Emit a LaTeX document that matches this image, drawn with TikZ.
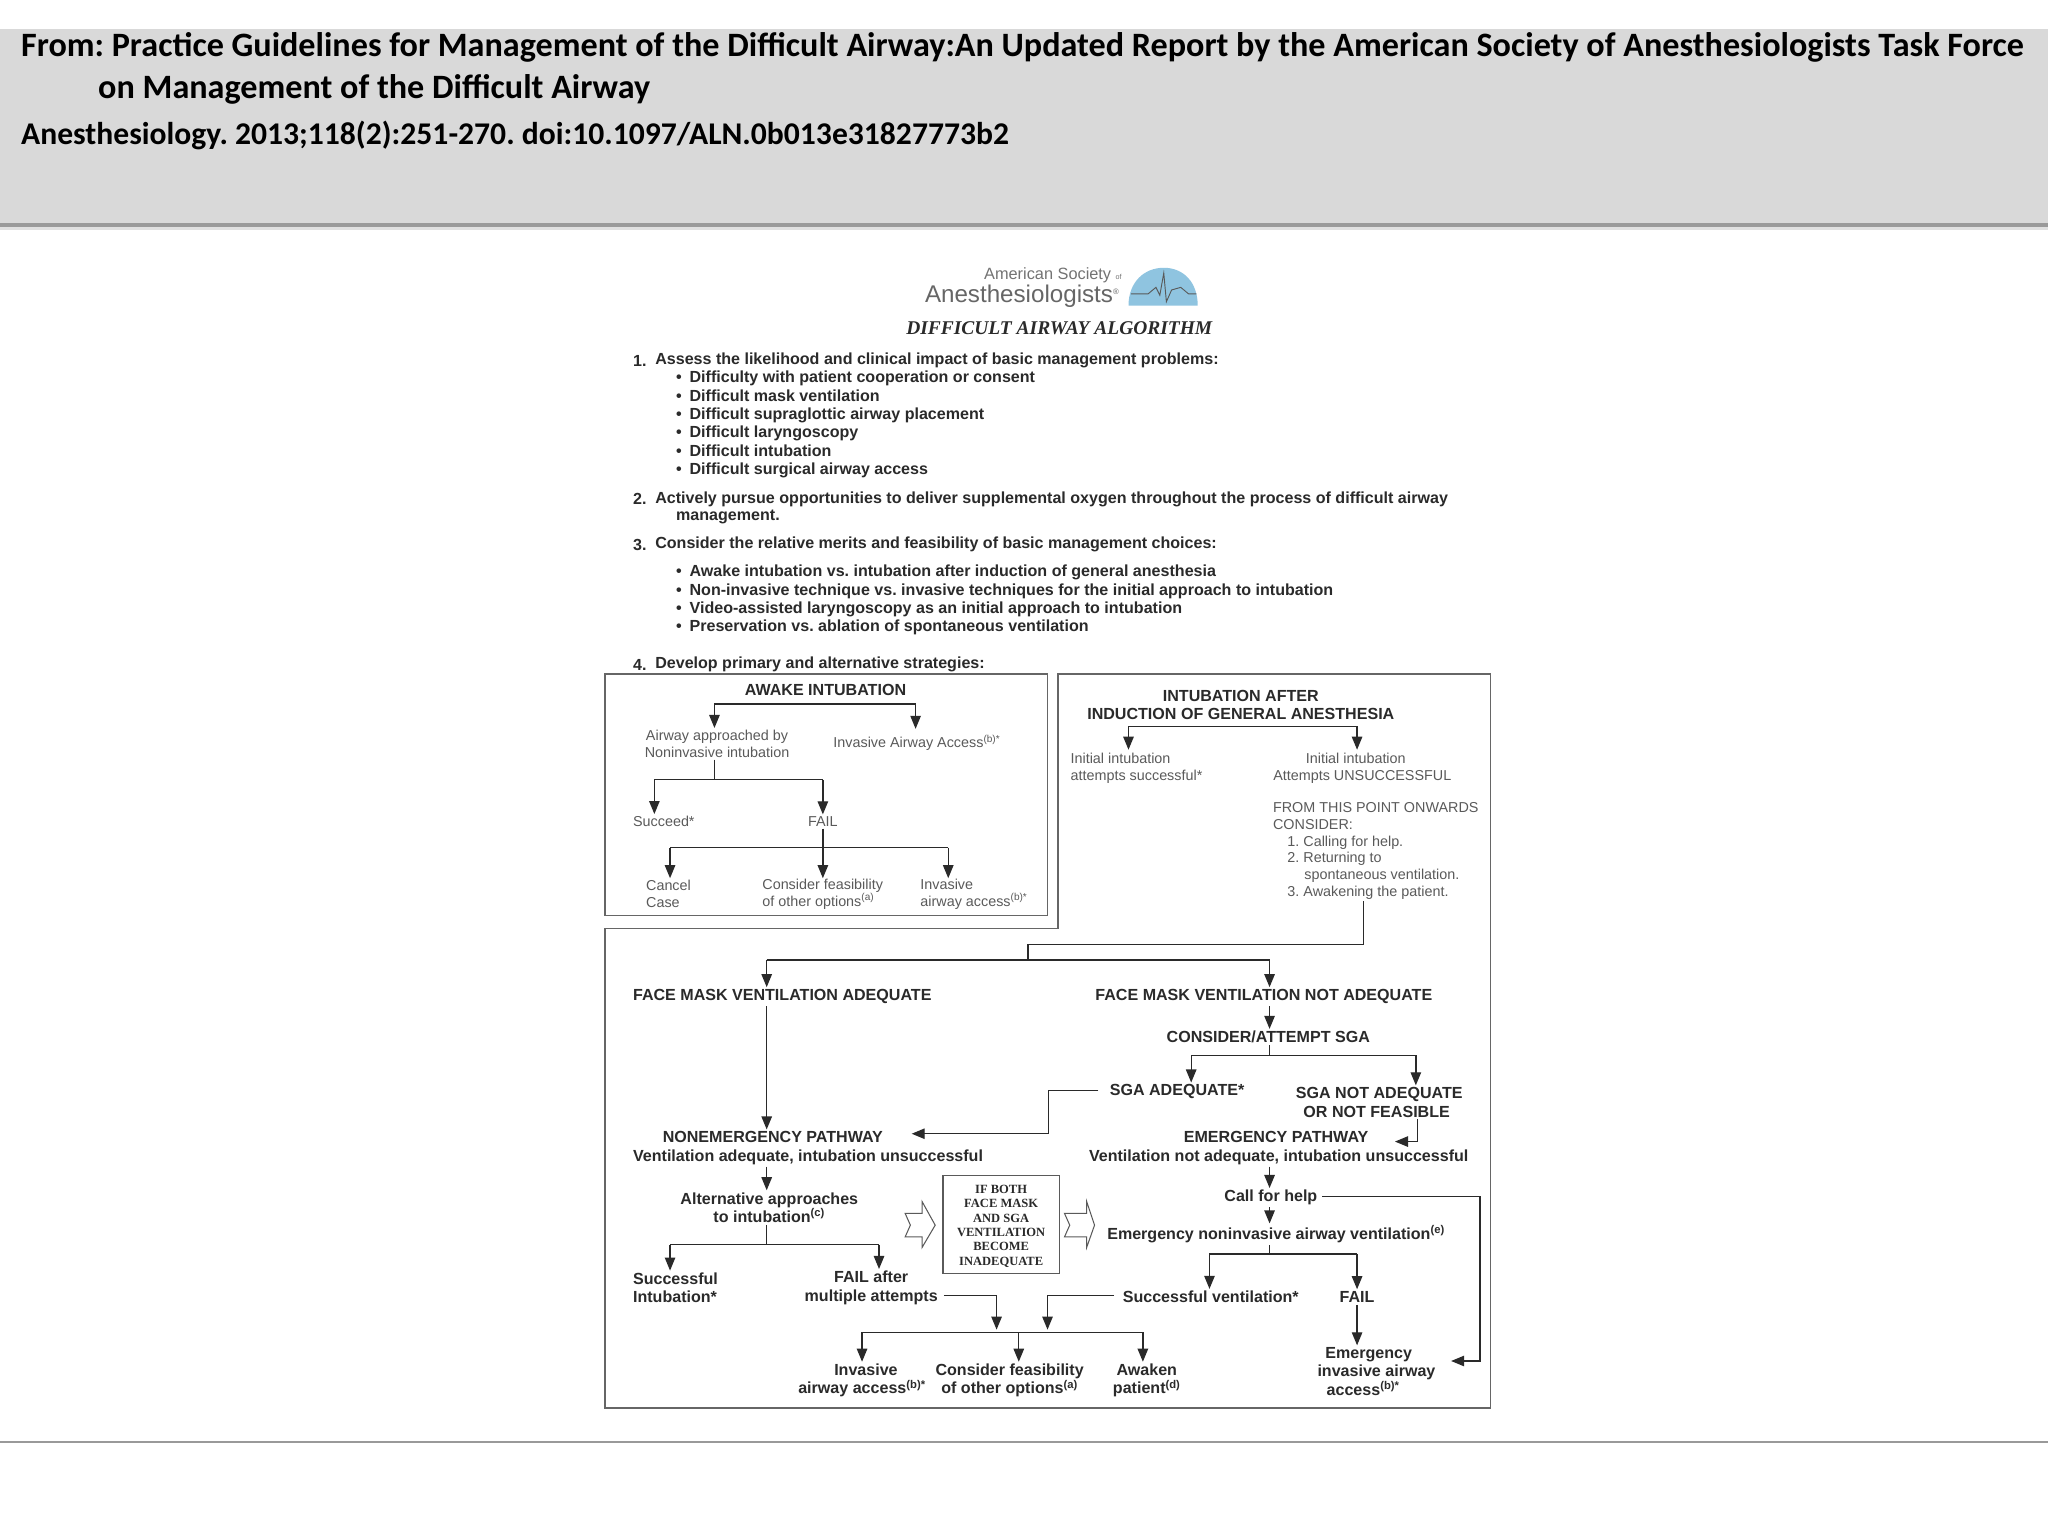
\documentclass[tikz,border=0pt]{standalone}
\usepackage{fontspec}
\setmainfont{Liberation Sans}
\newfontfamily\carlitoface{Carlito}
\newfontfamily\serifface{Liberation Serif}
\usetikzlibrary{arrows.meta}
\frenchspacing
\definecolor{hdrgray}{HTML}{D9D9D9}
\definecolor{hdrshadow}{HTML}{9A9A9A}
\definecolor{inkdark}{HTML}{2A2A2A}
\definecolor{inklight}{HTML}{5A5A5A}
\definecolor{rulecol}{HTML}{666666}
\definecolor{domeblue}{HTML}{8FC4E0}
\tikzset{
  x=1pt,y=-1pt,
  hdr/.style={font=\carlitoface\bfseries\fontsize{26.15}{30}\selectfont,text=black,anchor=west,inner sep=0pt},
  bold/.style={font=\bfseries\fontsize{12.3}{14}\selectfont,text=inkdark,inner sep=1.5pt,align=center},
  boldl/.style={bold,anchor=west,align=left},
  thin/.style={font=\fontsize{11}{12.8}\selectfont,text=inklight,inner sep=1.5pt,align=center},
  thinl/.style={thin,anchor=west,align=left},
  conn/.style={draw=inkdark,line width=1pt},
  arr/.style={conn,-{Triangle[width=8pt,length=10pt]}},
  frame/.style={draw=rulecol,line width=1.2pt},
  block/.style={draw=inklight,line width=.8pt,fill=white},
}
\begin{document}
\begin{tikzpicture}
\useasboundingbox (0,0) rectangle (1568,1176);
\fill[white] (0,0) rectangle (1568,1176);
% header band
\fill[hdrgray] (0,22) rectangle (1568,172);
\fill[hdrshadow] (0,171) rectangle (1568,174);
\fill[black!12] (0,174) rectangle (1568,176);
\draw[black!40,line width=1pt] (0,1104) -- (1568,1104);
\node[hdr] (h1) at (16,36.5) {From: Practice Guidelines for Management of the Difficult Airway:An Updated Report by the American Society of Anesthesiologists Task Force};
\node[hdr] (h2) at (75,68.5) {on Management of the Difficult Airway};
\node[hdr,font=\carlitoface\bfseries\fontsize{24.2}{30}\selectfont] (h3) at (16,103.5) {Anesthesiology. 2013;118(2):251-270. doi:10.1097/ALN.0b013e31827773b2};
% logo
\node[font=\fontsize{12.5}{14}\selectfont,text=black!55,anchor=east,inner sep=0pt] (asa1) at (859,210.5) {American Society {\fontsize{5.5}{6}\selectfont of}};
\node[font=\fontsize{18.5}{20}\selectfont,text=black!60,anchor=west,inner sep=0pt] (asa2) at (708,227) {Anesthesiologists\textsuperscript{\fontsize{6}{6}\selectfont ®}};
\fill[domeblue] (864,234) .. controls (864,216) and (876,205) .. (891,205) .. controls (906,205) and (917,216) .. (917,234) -- cycle;
\draw[black!65,line width=.7pt] (866,225) -- (879,225) -- (885,220) -- (888,226) -- (891,209) -- (893,231) -- (897,222) -- (904,220) -- (910,225) -- (916,225);
\node[font=\serifface\bfseries\itshape\fontsize{14.9}{16}\selectfont,text=inkdark,inner sep=0pt] (title) at (811,251.5) {DIFFICULT AIRWAY ALGORITHM};
% numbered text
\node[boldl] (n1) at (483,276) {1.};
\node[boldl] (t1) at (500,276) {Assess the likelihood and clinical impact of basic management problems:};
\node[boldl] (b1) at (516,325) {•\hspace{6pt}Difficulty with patient cooperation or consent\\•\hspace{6pt}Difficult mask ventilation\\•\hspace{6pt}Difficult supraglottic airway placement\\•\hspace{6pt}Difficult laryngoscopy\\•\hspace{6pt}Difficult intubation\\•\hspace{6pt}Difficult surgical airway access};
\node[boldl] (n2) at (483,382) {2.};
\node[boldl] (t2) at (500,382) {Actively pursue opportunities to deliver supplemental oxygen throughout the process of difficult airway};
\node[boldl] (t2b) at (516,396) {management.};
\node[boldl] (n3) at (483,417) {3.};
\node[boldl] (t3) at (500,417) {Consider the relative merits and feasibility of basic management choices:};
\node[boldl] (b3) at (516,459.5) {•\hspace{6pt}Awake intubation vs. intubation after induction of general anesthesia\\•\hspace{6pt}Non-invasive technique vs. invasive techniques for the initial approach to intubation\\•\hspace{6pt}Video-assisted laryngoscopy as an initial approach to intubation\\•\hspace{6pt}Preservation vs. ablation of spontaneous ventilation};
\node[boldl] (n4) at (483,509) {4.};
\node[boldl] (t4) at (500,509) {Develop primary and alternative strategies:};
% frames
\draw[frame] (463,516) rectangle (802,701);
\draw[frame] (463,711) -- (810,711) -- (810,516) -- (1141,516) -- (1141,1078) -- (463,1078) -- cycle;
% awake intubation
\node[bold] (awake) at (632,528) {AWAKE INTUBATION};
\node[thin] (airway) at (549,569.5) {Airway approached by\\Noninvasive intubation};
\node[thin] (iaa) at (702,568.5) {Invasive Airway Access\textsuperscript{(b)*}};
\node[thinl] (succeed) at (483,629) {Succeed*};
\node[thin] (afail) at (630,629) {FAIL};
\node[thinl] (cancel) at (493,684.5) {Cancel\\Case};
\node[thinl] (afeas) at (582,684.5) {Consider feasibility\\of other options\textsuperscript{(a)}};
\node[thinl] (ainv) at (703,684.5) {Invasive\\airway access\textsuperscript{(b)*}};
\coordinate (aj1) at (547,539);
\coordinate (aj1r) at (701,539);
\draw[conn] (aj1) -- (aj1r);
\draw[arr] (aj1) -- (aj1 |- airway.north);
\draw[arr] (aj1r) -- (aj1r |- 0,558);
\coordinate (aj2) at (547,597);
\coordinate (aj2l) at (501,597);
\coordinate (aj2r) at (630,597);
\draw[conn] (airway.south -| aj2) -- (aj2);
\draw[conn] (aj2l) -- (aj2r);
\draw[arr] (aj2l) -- (aj2l |- succeed.north);
\draw[arr] (aj2r) -- (afail.north);
\coordinate (aj3) at (630,649);
\coordinate (aj3l) at (513,649);
\coordinate (aj3r) at (726,649);
\draw[conn] (aj3l) -- (aj3r);
\draw[arr] (afail.south) -- (afail.south |- cancel.north);
\draw[arr] (aj3l) -- (aj3l |- cancel.north);
\draw[arr] (aj3r) -- (aj3r |- cancel.north);
% intubation after induction
\node[bold] (ind) at (950,540) {INTUBATION AFTER\\INDUCTION OF GENERAL ANESTHESIA};
\node[thinl] (isucc) at (818,588) {Initial intubation\\attempts successful*};
\node[thin] (iuns) at (1043,588) {Initial intubation\hspace*{10pt}\\Attempts UNSUCCESSFUL};
\node[thinl] (from) at (973,651.5) {FROM THIS POINT ONWARDS\\CONSIDER:\\\hspace{11pt}1. Calling for help.\\\hspace{11pt}2. Returning to\\\hspace{24pt}spontaneous ventilation.\\\hspace{11pt}3. Awakening the patient.};
\coordinate (ij1l) at (864,556);
\coordinate (ij1r) at (1039,556);
\draw[conn] (ij1l) -- (ij1r);
\draw[arr] (ij1l) -- (ij1l |- 0,574);
\draw[arr] (ij1r) -- (ij1r |- 0,574);
% main trunk
\coordinate (tr1) at (1044,723);
\coordinate (tr2) at (787,723);
\coordinate (tr3) at (787,735);
\coordinate (trl) at (587,735);
\coordinate (trr) at (972,735);
\draw[conn] (tr1 |- from.south) -- (tr1) -- (tr2) -- (tr3);
\draw[conn] (trl) -- (trr);
\node[boldl] (fma) at (483,763) {FACE MASK VENTILATION ADEQUATE};
\node[boldl] (fmn) at (837,763) {FACE MASK VENTILATION NOT ADEQUATE};
\node[bold] (sga) at (971,794) {CONSIDER/ATTEMPT SGA};
\node[boldl] (sgaok) at (848,836) {SGA ADEQUATE*};
\node[bold] (sgano) at (1056,844) {SGA NOT ADEQUATE\\OR NOT FEASIBLE\hspace*{4pt}};
\draw[arr] (trl) -- (trl |- fma.north);
\draw[arr] (trr) -- (trr |- fmn.north);
\draw[arr] (trr |- fmn.south) -- (trr |- sga.north);
\coordinate (sj) at (972,808);
\coordinate (sjl) at (912,808);
\coordinate (sjr) at (1084,808);
\draw[conn] (sj |- sga.south) -- (sj);
\draw[conn] (sjl) -- (sjr);
\draw[arr] (sjl) -- (sjl |- sgaok.north);
\draw[arr] (sjr) -- (sjr |- sgano.north);
% pathways
\node[boldl,align=left] (none) at (483,879) {\makebox[214pt][c]{NONEMERGENCY PATHWAY}\\Ventilation adequate, intubation unsuccessful};
\node[bold] (emer) at (979,879) {EMERGENCY PATHWAY\hspace*{4pt}\\Ventilation not adequate, intubation unsuccessful};
\coordinate (nearrow) at (698,868);
\coordinate (sb1) at (803,835);
\coordinate (sb2) at (803,868);
\draw[arr,shorten <=7pt] (sgaok.west |- sb1) -- (sb1) -- (sb2) -- (nearrow);
\coordinate (eb1) at (1085,874);
\coordinate (earrow) at (1068,874);
\draw[arr] (eb1 |- sgano.south) -- (eb1) -- (earrow);
\draw[arr] (trl |- fma.south) -- (trl |- none.north);
% left branch
\node[bold] (alt) at (589,924.5) {Alternative approaches\\to intubation\textsuperscript{(c)}};
\node[boldl] (sint) at (483,986) {Successful\\Intubation*};
\node[bold] (mfail) at (667,986) {FAIL after\\multiple attempts};
\draw[arr] (trl |- none.south) -- (trl |- alt.north);
\coordinate (lj) at (587,953);
\coordinate (ljl) at (513,953);
\coordinate (ljr) at (673,953);
\draw[conn] (lj |- alt.south) -- (lj);
\draw[conn] (ljl) -- (ljr);
\draw[arr] (ljl) -- (ljl |- sint.north);
\draw[arr] (ljr) -- (ljr |- mfail.north);
% centre box
\node[draw=inklight,line width=.9pt,minimum width=89pt,minimum height=75pt,inner sep=0pt,align=center,font=\serifface\bfseries\fontsize{9.6}{11}\selectfont,text=inkdark] (both) at (766.5,937.5) {\rule{0pt}{9pt}IF BOTH\\FACE MASK\\AND SGA\\VENTILATION\\BECOME\\INADEQUATE};
\draw[block] (693,929) -- (706,929) -- (706,920) -- (716,938) -- (706,955) -- (706,947) -- (693,947) -- (697,938) -- cycle;
\draw[block] (815,929) -- (832,929) -- (832,920) -- (838,938) -- (832,955) -- (832,947) -- (815,947) -- (819,938) -- cycle;
% right branch
\node[bold] (help) at (973,917) {Call for help};
\node[bold] (noninv) at (977,945) {Emergency noninvasive airway ventilation\textsuperscript{(e)}};
\node[bold] (sv) at (927,993) {Successful ventilation*};
\node[bold] (rfail) at (1039,993) {FAIL};
\node[boldl] (einv) at (1007,1050) {\hspace*{6pt}Emergency\\invasive airway\\\hspace*{7pt}access\textsuperscript{(b)*}};
\draw[arr] (trr |- emer.south) -- (trr |- help.north);
\draw[arr] (trr |- help.south) -- (trr |- noninv.north);
\coordinate (rj) at (972,960);
\coordinate (rjl) at (926,960);
\coordinate (rjr) at (1039,960);
\draw[conn] (rj |- noninv.south) -- (rj);
\draw[conn] (rjl) -- (rjr);
\draw[arr] (rjl) -- (rjl |- sv.north);
\draw[arr] (rjr) -- (rfail.north);
\coordinate (hb1) at (1133,916);
\coordinate (hb2) at (1133,1042);
\coordinate (hb3) at (1111,1042);
\draw[arr,shorten <=2pt] (help.east |- hb1) -- (hb1) -- (hb2) -- (hb3);
\draw[arr] (rfail.south) -- (rfail.south |- einv.north);
% bottom row
\coordinate (mb1) at (763,992);
\coordinate (mb2) at (763,1018);
\coordinate (vb1) at (802,992);
\coordinate (vb2) at (802,1018);
\draw[arr,shorten <=3pt] (mfail.east |- mb1) -- (mb1) -- (mb2);
\draw[arr,shorten <=5pt] (sv.west |- vb1) -- (vb1) -- (vb2);
\coordinate (bjl) at (660,1020);
\coordinate (bjm) at (780,1020);
\coordinate (bjr) at (875,1020);
\draw[conn] (bjl) -- (bjr);
\node[bold] (binv) at (660,1057) {\hspace*{6pt}Invasive\\airway access\textsuperscript{(b)*}};
\node[bold] (bfeas) at (773,1057) {Consider feasibility\\of other options\textsuperscript{(a)}};
\node[bold] (bawk) at (878,1057) {Awaken\\patient\textsuperscript{(d)}};
\draw[arr] (bjl) -- (bjl |- binv.north);
\draw[arr] (bjm) -- (bjm |- bfeas.north);
\draw[arr] (bjr) -- (bjr |- bawk.north);
\end{tikzpicture}
\end{document}
